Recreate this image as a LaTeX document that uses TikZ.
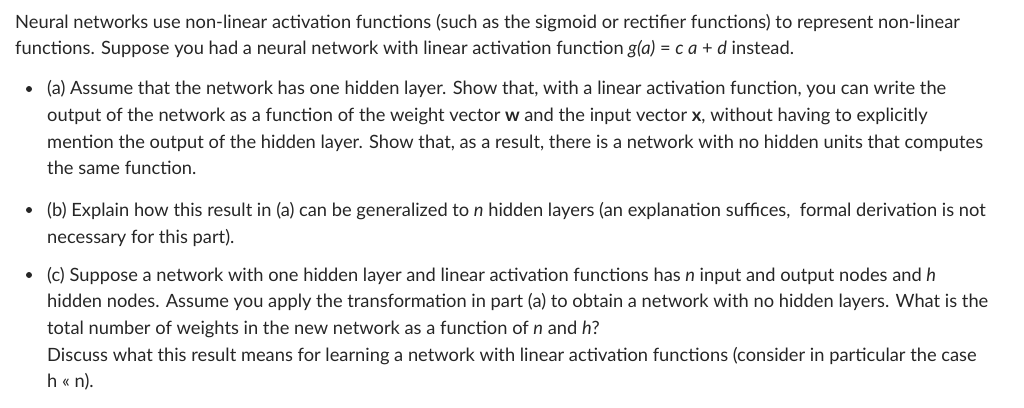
\documentclass[tikz,border=0pt]{standalone}
\usepackage{fontspec}
\setmainfont{Lato}
\begin{document}
\begin{tikzpicture}[x=1pt,y=-1pt,
  ln/.style={anchor=base west,inner sep=0pt,font=\fontsize{18.3}{20}\selectfont,text=black!85},
  bul/.style={circle,fill=black!85,inner sep=0pt,minimum size=6pt}]
\useasboundingbox (0,0) rectangle (1024,407);
\node[ln] (l1) at (15,28) {Neural networks use non-linear activation functions (such as the sigmoid or rectifier functions) to represent non-linear};
\node[ln] (l2) at (15,54) {functions. Suppose you had a neural network with linear activation function \textit{g(a)} = \textit{c a} + \textit{d} instead.};
\node[bul] (b1) at (29,89) {};
\node[ln] (a1) at (47,94) {(a) Assume that the network has one hidden layer. Show that, with a linear activation function, you can write the};
\node[ln] (a2) at (47,121) {output of the network as a function of the weight vector \textbf{w} and the input vector \textbf{x}, without having to explicitly};
\node[ln] (a3) at (47,148) {mention the output of the hidden layer. Show that, as a result, there is a network with no hidden units that computes};
\node[ln] (a4) at (47,174) {the same function.};
\node[bul] (b2) at (29,210) {};
\node[ln] (bb1) at (47,216) {(b) Explain how this result in (a) can be generalized to \textit{n} hidden layers (an explanation suffices,\ \ formal derivation is not};
\node[ln] (bb2) at (47,243) {necessary for this part).};
\node[bul] (b3) at (29,275) {};
\node[ln] (c1) at (47,281) {(c) Suppose a network with one hidden layer and linear activation functions has \textit{n} input and output nodes and \textit{h}};
\node[ln] (c2) at (47,307) {hidden nodes. Assume you apply the transformation in part (a) to obtain a network with no hidden layers. What is the};
\node[ln] (c3) at (47,334) {total number of weights in the new network as a function of \textit{n} and \textit{h}?};
\node[ln] (c4) at (47,361) {Discuss what this result means for learning a network with linear activation functions (consider in particular the case};
\node[ln] (c5) at (47,387) {h « n).};
\end{tikzpicture}
\end{document}
